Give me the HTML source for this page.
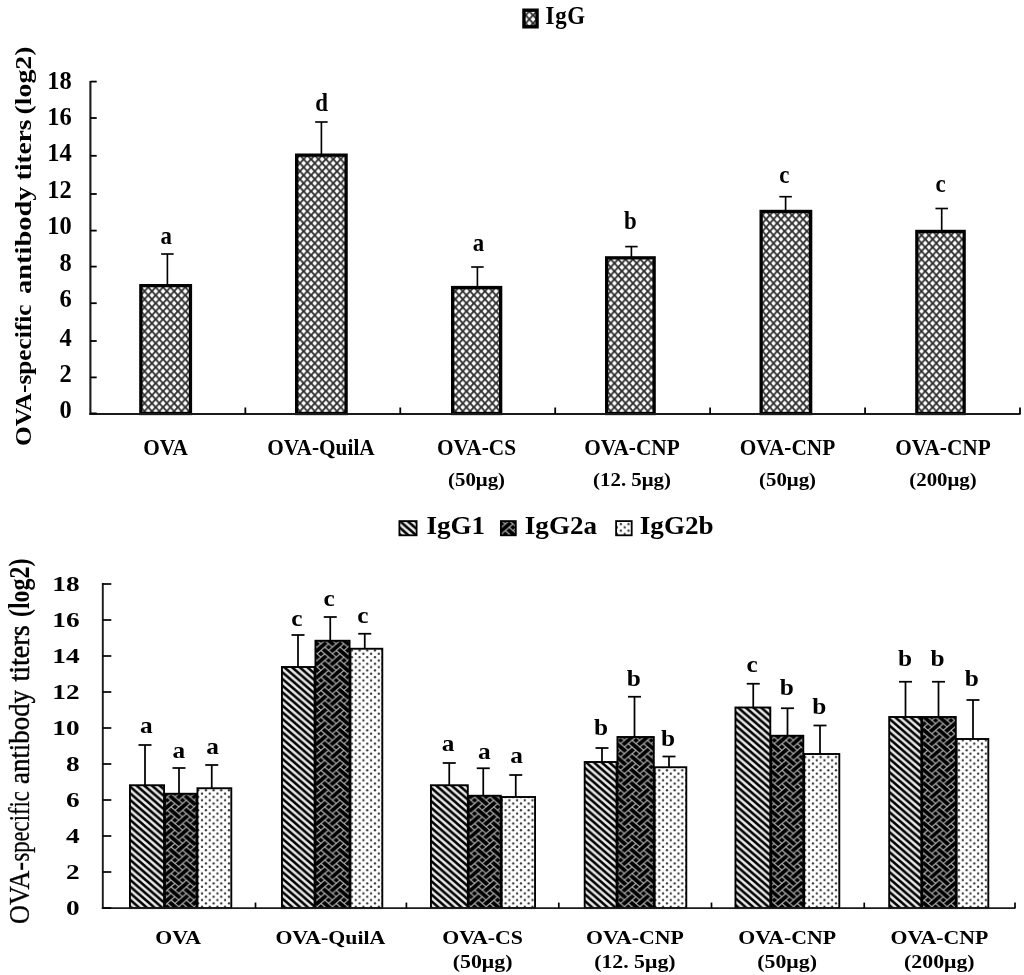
<!DOCTYPE html>
<html lang="en"><head><meta charset="utf-8"><title>OVA-specific antibody titers</title>
<style>
html,body{margin:0;padding:0;background:#fff;}
body{width:1024px;height:975px;overflow:hidden;}
svg{display:block;filter:blur(0.45px);}
svg text{font-family:'Liberation Serif',serif;fill:#000;}
</style></head><body>
<svg width="1024" height="975" viewBox="0 0 1024 975">
<rect width="1024" height="975" fill="#fff"/>
<defs>
<pattern id="pX" width="7.400" height="8.000" patternUnits="userSpaceOnUse" patternTransform="translate(0.25,-0.75)">
<rect width="8" height="8" fill="#fff"/>
<path d="M0 0L7.400 8.000M7.400 0L0 8.000" stroke="#2c2c2c" stroke-width="1.85" fill="none" stroke-linecap="square"/>
</pattern>
<pattern id="p1" width="4" height="4" patternUnits="userSpaceOnUse" patternTransform="translate(0.9,2.45) scale(1.921,1.664)">
<rect width="4" height="4" fill="#ececec"/>
<path d="M-1 -1L5 5M-1 3L1 5M3 -1L5 1" stroke="#000" stroke-width="1.45" fill="none"/>
</pattern>
<pattern id="p2" width="8" height="8" patternUnits="userSpaceOnUse" patternTransform="translate(8.76,7.32) scale(1.921,1.664)">
<rect width="8" height="8" fill="#000"/>
<path d="M-5.5 -5.5L0.5 0.5M-5.5 2.5L0.5 8.5M2.5 -5.5L8.5 0.5M2.5 2.5L8.5 8.5M-3.5 0.5L2.5 6.5M-3.5 8.5L2.5 14.5M4.5 0.5L10.5 6.5M4.5 8.5L10.5 14.5M4.5 -3.5L-1.5 2.5M4.5 4.5L-1.5 10.5M12.5 -3.5L6.5 2.5M12.5 4.5L6.5 10.5M6.5 -1.5L0.5 4.5M6.5 6.5L0.5 12.5M14.5 -1.5L8.5 4.5M14.5 6.5L8.5 12.5" stroke="#b0b0b0" stroke-width="0.66" stroke-linecap="square" fill="none"/>
</pattern>
<pattern id="p3" width="4" height="4" patternUnits="userSpaceOnUse" patternTransform="translate(0.355,-0.148) scale(1.921,1.664)">
<rect width="4" height="4" fill="#fff"/>
<ellipse cx="1" cy="1" rx="0.6" ry="0.69" fill="#333"/><ellipse cx="3" cy="3" rx="0.6" ry="0.69" fill="#333"/>
</pattern>
</defs>
<line x1="167.40" y1="254.00" x2="167.40" y2="285.00" stroke="#000" stroke-width="1.65"/>
<line x1="161.15" y1="254.00" x2="173.65" y2="254.00" stroke="#000" stroke-width="1.65"/>
<rect x="140.85" y="285.65" width="49.60" height="127.85" fill="url(#pX)" stroke="#000" stroke-width="3.3"/>
<line x1="321.40" y1="122.00" x2="321.40" y2="154.50" stroke="#000" stroke-width="1.65"/>
<line x1="315.15" y1="122.00" x2="327.65" y2="122.00" stroke="#000" stroke-width="1.65"/>
<rect x="296.65" y="155.15" width="49.45" height="258.35" fill="url(#pX)" stroke="#000" stroke-width="3.3"/>
<line x1="477.40" y1="267.00" x2="477.40" y2="286.90" stroke="#000" stroke-width="1.65"/>
<line x1="471.15" y1="267.00" x2="483.65" y2="267.00" stroke="#000" stroke-width="1.65"/>
<rect x="452.65" y="287.55" width="48.00" height="125.95" fill="url(#pX)" stroke="#000" stroke-width="3.3"/>
<line x1="631.40" y1="246.60" x2="631.40" y2="257.20" stroke="#000" stroke-width="1.65"/>
<line x1="625.15" y1="246.60" x2="637.65" y2="246.60" stroke="#000" stroke-width="1.65"/>
<rect x="606.65" y="257.85" width="47.50" height="155.65" fill="url(#pX)" stroke="#000" stroke-width="3.3"/>
<line x1="785.60" y1="196.70" x2="785.60" y2="210.80" stroke="#000" stroke-width="1.65"/>
<line x1="779.35" y1="196.70" x2="791.85" y2="196.70" stroke="#000" stroke-width="1.65"/>
<rect x="761.15" y="211.45" width="49.50" height="202.05" fill="url(#pX)" stroke="#000" stroke-width="3.3"/>
<line x1="941.70" y1="208.50" x2="941.70" y2="230.80" stroke="#000" stroke-width="1.65"/>
<line x1="935.45" y1="208.50" x2="947.95" y2="208.50" stroke="#000" stroke-width="1.65"/>
<rect x="916.85" y="231.45" width="47.30" height="182.05" fill="url(#pX)" stroke="#000" stroke-width="3.3"/>
<text transform="translate(166.25,244.00) scale(0.880,1.000)" font-size="26" text-anchor="middle" font-weight="bold" >a</text>
<text transform="translate(321.50,111.00) scale(0.880,1.000)" font-size="26" text-anchor="middle" font-weight="bold" >d</text>
<text transform="translate(478.50,251.25) scale(0.880,1.000)" font-size="26" text-anchor="middle" font-weight="bold" >a</text>
<text transform="translate(630.25,229.00) scale(0.880,1.000)" font-size="26" text-anchor="middle" font-weight="bold" >b</text>
<text transform="translate(784.25,183.00) scale(0.880,1.000)" font-size="26" text-anchor="middle" font-weight="bold" >c</text>
<text transform="translate(940.50,192.00) scale(0.880,1.000)" font-size="26" text-anchor="middle" font-weight="bold" >c</text>
<line x1="90.40" y1="81.00" x2="90.40" y2="415.00" stroke="#1a1a1a" stroke-width="2.1"/>
<line x1="89.35" y1="414.00" x2="1020.50" y2="414.00" stroke="#1a1a1a" stroke-width="2.2"/>
<line x1="90.40" y1="81.60" x2="96.70" y2="81.60" stroke="#000" stroke-width="1.8"/>
<line x1="90.40" y1="118.00" x2="96.70" y2="118.00" stroke="#000" stroke-width="1.8"/>
<line x1="90.40" y1="155.80" x2="96.70" y2="155.80" stroke="#000" stroke-width="1.8"/>
<line x1="90.40" y1="194.00" x2="96.70" y2="194.00" stroke="#000" stroke-width="1.8"/>
<line x1="90.40" y1="230.60" x2="96.70" y2="230.60" stroke="#000" stroke-width="1.8"/>
<line x1="90.40" y1="266.60" x2="96.70" y2="266.60" stroke="#000" stroke-width="1.8"/>
<line x1="90.40" y1="303.20" x2="96.70" y2="303.20" stroke="#000" stroke-width="1.8"/>
<line x1="90.40" y1="341.00" x2="96.70" y2="341.00" stroke="#000" stroke-width="1.8"/>
<line x1="90.40" y1="377.40" x2="96.70" y2="377.40" stroke="#000" stroke-width="1.8"/>
<line x1="90.40" y1="413.40" x2="96.70" y2="413.40" stroke="#000" stroke-width="1.8"/>
<line x1="245.33" y1="414.00" x2="245.33" y2="407.50" stroke="#000" stroke-width="1.8"/>
<line x1="400.27" y1="414.00" x2="400.27" y2="407.50" stroke="#000" stroke-width="1.8"/>
<line x1="555.20" y1="414.00" x2="555.20" y2="407.50" stroke="#000" stroke-width="1.8"/>
<line x1="710.13" y1="414.00" x2="710.13" y2="407.50" stroke="#000" stroke-width="1.8"/>
<line x1="865.07" y1="414.00" x2="865.07" y2="407.50" stroke="#000" stroke-width="1.8"/>
<line x1="1020.00" y1="414.00" x2="1020.00" y2="407.50" stroke="#000" stroke-width="1.8"/>
<text transform="translate(71.60,88.50) scale(0.940,1.000)" font-size="26" text-anchor="end" font-weight="bold" >18</text>
<text transform="translate(71.60,124.50) scale(0.940,1.000)" font-size="26" text-anchor="end" font-weight="bold" >16</text>
<text transform="translate(71.60,160.80) scale(0.940,1.000)" font-size="26" text-anchor="end" font-weight="bold" >14</text>
<text transform="translate(71.60,198.00) scale(0.940,1.000)" font-size="26" text-anchor="end" font-weight="bold" >12</text>
<text transform="translate(71.60,234.00) scale(0.940,1.000)" font-size="26" text-anchor="end" font-weight="bold" >10</text>
<text transform="translate(71.60,271.00) scale(0.940,1.000)" font-size="26" text-anchor="end" font-weight="bold" >8</text>
<text transform="translate(71.60,307.00) scale(0.940,1.000)" font-size="26" text-anchor="end" font-weight="bold" >6</text>
<text transform="translate(71.60,346.00) scale(0.940,1.000)" font-size="26" text-anchor="end" font-weight="bold" >4</text>
<text transform="translate(71.60,382.00) scale(0.940,1.000)" font-size="26" text-anchor="end" font-weight="bold" >2</text>
<text transform="translate(71.60,418.00) scale(0.940,1.000)" font-size="26" text-anchor="end" font-weight="bold" >0</text>
<text transform="translate(30.50,445.90) rotate(-90) scale(1.000,1.000)" font-size="24" text-anchor="start" font-weight="bold" textLength="141.3" lengthAdjust="spacingAndGlyphs">OVA-specific</text>
<text transform="translate(30.50,294.00) rotate(-90) scale(1.000,1.000)" font-size="24" text-anchor="start" font-weight="bold" textLength="107.6" lengthAdjust="spacingAndGlyphs">antibody</text>
<text transform="translate(30.50,180.20) rotate(-90) scale(1.000,1.000)" font-size="24" text-anchor="start" font-weight="bold" textLength="60.6" lengthAdjust="spacingAndGlyphs">titers</text>
<text transform="translate(30.50,114.50) rotate(-90) scale(1.000,1.000)" font-size="24" text-anchor="start" font-weight="bold" textLength="68.0" lengthAdjust="spacingAndGlyphs">(log2)</text>
<rect x="523.95" y="10.2" width="13.1" height="16.6" fill="url(#pX)" stroke="#000" stroke-width="3.4"/>
<text transform="translate(545.60,24.40) scale(0.880,1.000)" font-size="26" text-anchor="start" font-weight="bold" letter-spacing="0.8">IgG</text>
<text transform="translate(165.50,455.00) scale(0.953,1.000)" font-size="22.4" text-anchor="middle" font-weight="bold" >OVA</text>
<text transform="translate(321.00,455.00) scale(0.953,1.000)" font-size="22.4" text-anchor="middle" font-weight="bold" >OVA-QuilA</text>
<text transform="translate(476.50,455.00) scale(0.953,1.000)" font-size="22.4" text-anchor="middle" font-weight="bold" >OVA-CS</text>
<text transform="translate(476.50,486.20) scale(1.070,1.000)" font-size="19.5" text-anchor="middle" font-weight="bold" >(50μg)</text>
<text transform="translate(632.00,455.00) scale(0.953,1.000)" font-size="22.4" text-anchor="middle" font-weight="bold" >OVA-CNP</text>
<text transform="translate(632.00,486.20) scale(1.070,1.000)" font-size="19.5" text-anchor="middle" font-weight="bold" >(12. 5μg)</text>
<text transform="translate(787.50,455.00) scale(0.953,1.000)" font-size="22.4" text-anchor="middle" font-weight="bold" >OVA-CNP</text>
<text transform="translate(787.50,486.20) scale(1.070,1.000)" font-size="19.5" text-anchor="middle" font-weight="bold" >(50μg)</text>
<text transform="translate(943.00,455.00) scale(0.953,1.000)" font-size="22.4" text-anchor="middle" font-weight="bold" >OVA-CNP</text>
<text transform="translate(943.00,486.20) scale(1.070,1.000)" font-size="19.5" text-anchor="middle" font-weight="bold" >(200μg)</text>
<line x1="145.00" y1="745.00" x2="145.00" y2="785.50" stroke="#000" stroke-width="1.75"/>
<line x1="138.50" y1="745.00" x2="151.50" y2="745.00" stroke="#000" stroke-width="1.75"/>
<line x1="179.00" y1="768.00" x2="179.00" y2="794.00" stroke="#000" stroke-width="1.75"/>
<line x1="172.50" y1="768.00" x2="185.50" y2="768.00" stroke="#000" stroke-width="1.75"/>
<line x1="211.75" y1="765.00" x2="211.75" y2="788.50" stroke="#000" stroke-width="1.75"/>
<line x1="205.25" y1="765.00" x2="218.25" y2="765.00" stroke="#000" stroke-width="1.75"/>
<rect x="129.95" y="785.25" width="34.10" height="122.85" fill="url(#p1)" stroke="#000" stroke-width="1.9"/>
<rect x="164.95" y="793.75" width="31.60" height="114.35" fill="url(#p2)" stroke="#000" stroke-width="1.9"/>
<rect x="197.45" y="788.25" width="33.85" height="119.85" fill="url(#p3)" stroke="#000" stroke-width="1.9"/>
<text transform="translate(146.25,732.50) scale(1.100,1.000)" font-size="23" text-anchor="middle" font-weight="bold" >a</text>
<text transform="translate(178.75,757.50) scale(1.100,1.000)" font-size="23" text-anchor="middle" font-weight="bold" >a</text>
<text transform="translate(212.50,753.75) scale(1.100,1.000)" font-size="23" text-anchor="middle" font-weight="bold" >a</text>
<line x1="298.00" y1="635.00" x2="298.00" y2="667.25" stroke="#000" stroke-width="1.75"/>
<line x1="291.50" y1="635.00" x2="304.50" y2="635.00" stroke="#000" stroke-width="1.75"/>
<line x1="330.25" y1="617.00" x2="330.25" y2="641.00" stroke="#000" stroke-width="1.75"/>
<line x1="323.75" y1="617.00" x2="336.75" y2="617.00" stroke="#000" stroke-width="1.75"/>
<line x1="364.75" y1="633.75" x2="364.75" y2="649.00" stroke="#000" stroke-width="1.75"/>
<line x1="358.25" y1="633.75" x2="371.25" y2="633.75" stroke="#000" stroke-width="1.75"/>
<rect x="281.95" y="667.00" width="32.60" height="241.10" fill="url(#p1)" stroke="#000" stroke-width="1.9"/>
<rect x="315.45" y="640.75" width="34.10" height="267.35" fill="url(#p2)" stroke="#000" stroke-width="1.9"/>
<rect x="350.45" y="648.75" width="31.85" height="259.35" fill="url(#p3)" stroke="#000" stroke-width="1.9"/>
<text transform="translate(296.75,625.75) scale(1.100,1.000)" font-size="23" text-anchor="middle" font-weight="bold" >c</text>
<text transform="translate(329.00,605.75) scale(1.100,1.000)" font-size="23" text-anchor="middle" font-weight="bold" >c</text>
<text transform="translate(362.90,622.50) scale(1.100,1.000)" font-size="23" text-anchor="middle" font-weight="bold" >c</text>
<line x1="449.25" y1="763.00" x2="449.25" y2="785.50" stroke="#000" stroke-width="1.75"/>
<line x1="442.75" y1="763.00" x2="455.75" y2="763.00" stroke="#000" stroke-width="1.75"/>
<line x1="483.25" y1="768.25" x2="483.25" y2="796.00" stroke="#000" stroke-width="1.75"/>
<line x1="476.75" y1="768.25" x2="489.75" y2="768.25" stroke="#000" stroke-width="1.75"/>
<line x1="515.75" y1="775.00" x2="515.75" y2="797.25" stroke="#000" stroke-width="1.75"/>
<line x1="509.25" y1="775.00" x2="522.25" y2="775.00" stroke="#000" stroke-width="1.75"/>
<rect x="430.95" y="785.25" width="36.85" height="122.85" fill="url(#p1)" stroke="#000" stroke-width="1.9"/>
<rect x="468.70" y="795.75" width="32.10" height="112.35" fill="url(#p2)" stroke="#000" stroke-width="1.9"/>
<rect x="501.70" y="797.00" width="33.35" height="111.10" fill="url(#p3)" stroke="#000" stroke-width="1.9"/>
<text transform="translate(448.10,750.50) scale(1.100,1.000)" font-size="23" text-anchor="middle" font-weight="bold" >a</text>
<text transform="translate(484.25,759.00) scale(1.100,1.000)" font-size="23" text-anchor="middle" font-weight="bold" >a</text>
<text transform="translate(516.60,762.50) scale(1.100,1.000)" font-size="23" text-anchor="middle" font-weight="bold" >a</text>
<line x1="602.00" y1="748.00" x2="602.00" y2="762.25" stroke="#000" stroke-width="1.75"/>
<line x1="595.50" y1="748.00" x2="608.50" y2="748.00" stroke="#000" stroke-width="1.75"/>
<line x1="634.50" y1="696.75" x2="634.50" y2="737.25" stroke="#000" stroke-width="1.75"/>
<line x1="628.00" y1="696.75" x2="641.00" y2="696.75" stroke="#000" stroke-width="1.75"/>
<line x1="669.00" y1="756.50" x2="669.00" y2="767.50" stroke="#000" stroke-width="1.75"/>
<line x1="662.50" y1="756.50" x2="675.50" y2="756.50" stroke="#000" stroke-width="1.75"/>
<rect x="584.70" y="762.00" width="31.85" height="146.10" fill="url(#p1)" stroke="#000" stroke-width="1.9"/>
<rect x="617.45" y="737.00" width="36.35" height="171.10" fill="url(#p2)" stroke="#000" stroke-width="1.9"/>
<rect x="654.70" y="767.25" width="31.60" height="140.85" fill="url(#p3)" stroke="#000" stroke-width="1.9"/>
<text transform="translate(601.00,735.00) scale(1.100,1.000)" font-size="23" text-anchor="middle" font-weight="bold" >b</text>
<text transform="translate(633.90,685.75) scale(1.100,1.000)" font-size="23" text-anchor="middle" font-weight="bold" >b</text>
<text transform="translate(668.00,745.50) scale(1.100,1.000)" font-size="23" text-anchor="middle" font-weight="bold" >b</text>
<line x1="753.25" y1="683.75" x2="753.25" y2="707.75" stroke="#000" stroke-width="1.75"/>
<line x1="746.75" y1="683.75" x2="759.75" y2="683.75" stroke="#000" stroke-width="1.75"/>
<line x1="787.50" y1="708.25" x2="787.50" y2="736.00" stroke="#000" stroke-width="1.75"/>
<line x1="781.00" y1="708.25" x2="794.00" y2="708.25" stroke="#000" stroke-width="1.75"/>
<line x1="820.00" y1="725.50" x2="820.00" y2="754.25" stroke="#000" stroke-width="1.75"/>
<line x1="813.50" y1="725.50" x2="826.50" y2="725.50" stroke="#000" stroke-width="1.75"/>
<rect x="735.45" y="707.50" width="34.85" height="200.60" fill="url(#p1)" stroke="#000" stroke-width="1.9"/>
<rect x="771.20" y="735.75" width="32.10" height="172.35" fill="url(#p2)" stroke="#000" stroke-width="1.9"/>
<rect x="804.20" y="754.00" width="35.10" height="154.10" fill="url(#p3)" stroke="#000" stroke-width="1.9"/>
<text transform="translate(752.00,672.00) scale(1.100,1.000)" font-size="23" text-anchor="middle" font-weight="bold" >c</text>
<text transform="translate(786.90,695.00) scale(1.100,1.000)" font-size="23" text-anchor="middle" font-weight="bold" >b</text>
<text transform="translate(819.40,713.75) scale(1.100,1.000)" font-size="23" text-anchor="middle" font-weight="bold" >b</text>
<line x1="905.50" y1="681.75" x2="905.50" y2="717.25" stroke="#000" stroke-width="1.75"/>
<line x1="899.00" y1="681.75" x2="912.00" y2="681.75" stroke="#000" stroke-width="1.75"/>
<line x1="938.50" y1="681.75" x2="938.50" y2="717.25" stroke="#000" stroke-width="1.75"/>
<line x1="932.00" y1="681.75" x2="945.00" y2="681.75" stroke="#000" stroke-width="1.75"/>
<line x1="973.00" y1="700.00" x2="973.00" y2="739.25" stroke="#000" stroke-width="1.75"/>
<line x1="966.50" y1="700.00" x2="979.50" y2="700.00" stroke="#000" stroke-width="1.75"/>
<rect x="889.20" y="717.00" width="32.10" height="191.10" fill="url(#p1)" stroke="#000" stroke-width="1.9"/>
<rect x="922.20" y="717.00" width="33.60" height="191.10" fill="url(#p2)" stroke="#000" stroke-width="1.9"/>
<rect x="956.70" y="739.00" width="31.60" height="169.10" fill="url(#p3)" stroke="#000" stroke-width="1.9"/>
<text transform="translate(905.10,666.25) scale(1.100,1.000)" font-size="23" text-anchor="middle" font-weight="bold" >b</text>
<text transform="translate(937.60,666.25) scale(1.100,1.000)" font-size="23" text-anchor="middle" font-weight="bold" >b</text>
<text transform="translate(971.90,685.50) scale(1.100,1.000)" font-size="23" text-anchor="middle" font-weight="bold" >b</text>
<line x1="102.80" y1="583.10" x2="102.80" y2="909.00" stroke="#1a1a1a" stroke-width="1.9"/>
<line x1="101.85" y1="908.10" x2="1015.50" y2="908.10" stroke="#1a1a1a" stroke-width="1.9"/>
<line x1="102.80" y1="584.00" x2="111.30" y2="584.00" stroke="#000" stroke-width="1.7"/>
<line x1="102.80" y1="620.00" x2="111.30" y2="620.00" stroke="#000" stroke-width="1.7"/>
<line x1="102.80" y1="656.00" x2="111.30" y2="656.00" stroke="#000" stroke-width="1.7"/>
<line x1="102.80" y1="692.00" x2="111.30" y2="692.00" stroke="#000" stroke-width="1.7"/>
<line x1="102.80" y1="728.00" x2="111.30" y2="728.00" stroke="#000" stroke-width="1.7"/>
<line x1="102.80" y1="764.00" x2="111.30" y2="764.00" stroke="#000" stroke-width="1.7"/>
<line x1="102.80" y1="800.00" x2="111.30" y2="800.00" stroke="#000" stroke-width="1.7"/>
<line x1="102.80" y1="836.00" x2="111.30" y2="836.00" stroke="#000" stroke-width="1.7"/>
<line x1="102.80" y1="872.00" x2="111.30" y2="872.00" stroke="#000" stroke-width="1.7"/>
<line x1="102.80" y1="908.00" x2="111.30" y2="908.00" stroke="#000" stroke-width="1.7"/>
<line x1="255.50" y1="908.10" x2="255.50" y2="902.60" stroke="#000" stroke-width="1.7"/>
<line x1="406.40" y1="908.10" x2="406.40" y2="902.60" stroke="#000" stroke-width="1.7"/>
<line x1="558.80" y1="908.10" x2="558.80" y2="902.60" stroke="#000" stroke-width="1.7"/>
<line x1="711.50" y1="908.10" x2="711.50" y2="902.60" stroke="#000" stroke-width="1.7"/>
<line x1="864.25" y1="908.10" x2="864.25" y2="902.60" stroke="#000" stroke-width="1.7"/>
<line x1="1015.00" y1="908.10" x2="1015.00" y2="902.60" stroke="#000" stroke-width="1.7"/>
<text transform="translate(79.60,591.00) scale(1.300,1.000)" font-size="21" text-anchor="end" font-weight="bold" >18</text>
<text transform="translate(79.60,627.00) scale(1.300,1.000)" font-size="21" text-anchor="end" font-weight="bold" >16</text>
<text transform="translate(79.60,663.00) scale(1.300,1.000)" font-size="21" text-anchor="end" font-weight="bold" >14</text>
<text transform="translate(79.60,699.00) scale(1.300,1.000)" font-size="21" text-anchor="end" font-weight="bold" >12</text>
<text transform="translate(79.60,735.00) scale(1.300,1.000)" font-size="21" text-anchor="end" font-weight="bold" >10</text>
<text transform="translate(79.60,771.00) scale(1.300,1.000)" font-size="21" text-anchor="end" font-weight="bold" >8</text>
<text transform="translate(79.60,807.00) scale(1.300,1.000)" font-size="21" text-anchor="end" font-weight="bold" >6</text>
<text transform="translate(79.60,843.00) scale(1.300,1.000)" font-size="21" text-anchor="end" font-weight="bold" >4</text>
<text transform="translate(79.60,879.00) scale(1.300,1.000)" font-size="21" text-anchor="end" font-weight="bold" >2</text>
<text transform="translate(79.60,915.00) scale(1.300,1.000)" font-size="21" text-anchor="end" font-weight="bold" >0</text>
<text transform="translate(29.20,924.00) rotate(-90) scale(1.000,1.000)" font-size="29" text-anchor="start" font-weight="normal" textLength="62.0" lengthAdjust="spacingAndGlyphs" stroke="#000" stroke-width="0.3">OVA-</text>
<text transform="translate(29.20,861.60) rotate(-90) scale(1.000,1.000)" font-size="29" text-anchor="start" font-weight="normal" textLength="70.4" lengthAdjust="spacingAndGlyphs" stroke="#000" stroke-width="0.3">specific</text>
<text transform="translate(29.20,784.00) rotate(-90) scale(1.000,1.000)" font-size="29" text-anchor="start" font-weight="normal" textLength="94.0" lengthAdjust="spacingAndGlyphs" stroke="#000" stroke-width="0.4">antibody</text>
<text transform="translate(29.20,681.60) rotate(-90) scale(1.000,1.000)" font-size="29" text-anchor="start" font-weight="normal" textLength="56.3" lengthAdjust="spacingAndGlyphs" stroke="#000" stroke-width="0.55">titers</text>
<text transform="translate(29.20,617.00) rotate(-90) scale(1.000,1.000)" font-size="29" text-anchor="start" font-weight="bold" textLength="58.4" lengthAdjust="spacingAndGlyphs">(log2)</text>
<rect x="399.40" y="521.10" width="17.20" height="14.20" fill="url(#p1)" stroke="#000" stroke-width="1.8"/>
<rect x="500.90" y="521.10" width="14.90" height="14.20" fill="url(#p2)" stroke="#000" stroke-width="1.8"/>
<rect x="616.10" y="521.10" width="15.60" height="14.20" fill="url(#p3)" stroke="#000" stroke-width="1.8"/>
<text transform="translate(426.40,534.10) scale(1.060,1.000)" font-size="25.6" text-anchor="start" font-weight="bold" >IgG1</text>
<text transform="translate(524.80,534.10) scale(1.060,1.000)" font-size="25.6" text-anchor="start" font-weight="bold" >IgG2a</text>
<text transform="translate(639.80,534.10) scale(1.060,1.000)" font-size="25.6" text-anchor="start" font-weight="bold" >IgG2b</text>
<text transform="translate(178.10,944.25) scale(1.180,1.000)" font-size="18.5" text-anchor="middle" font-weight="bold" >OVA</text>
<text transform="translate(330.35,944.25) scale(1.180,1.000)" font-size="18.5" text-anchor="middle" font-weight="bold" >OVA-QuilA</text>
<text transform="translate(482.60,944.25) scale(1.180,1.000)" font-size="18.5" text-anchor="middle" font-weight="bold" >OVA-CS</text>
<text transform="translate(482.60,968.00) scale(1.180,1.000)" font-size="18.5" text-anchor="middle" font-weight="bold" >(50μg)</text>
<text transform="translate(634.85,944.25) scale(1.180,1.000)" font-size="18.5" text-anchor="middle" font-weight="bold" >OVA-CNP</text>
<text transform="translate(634.85,968.00) scale(1.180,1.000)" font-size="18.5" text-anchor="middle" font-weight="bold" >(12. 5μg)</text>
<text transform="translate(787.10,944.25) scale(1.180,1.000)" font-size="18.5" text-anchor="middle" font-weight="bold" >OVA-CNP</text>
<text transform="translate(787.10,968.00) scale(1.180,1.000)" font-size="18.5" text-anchor="middle" font-weight="bold" >(50μg)</text>
<text transform="translate(939.35,944.25) scale(1.180,1.000)" font-size="18.5" text-anchor="middle" font-weight="bold" >OVA-CNP</text>
<text transform="translate(939.35,968.00) scale(1.180,1.000)" font-size="18.5" text-anchor="middle" font-weight="bold" >(200μg)</text>
</svg>
</body></html>
